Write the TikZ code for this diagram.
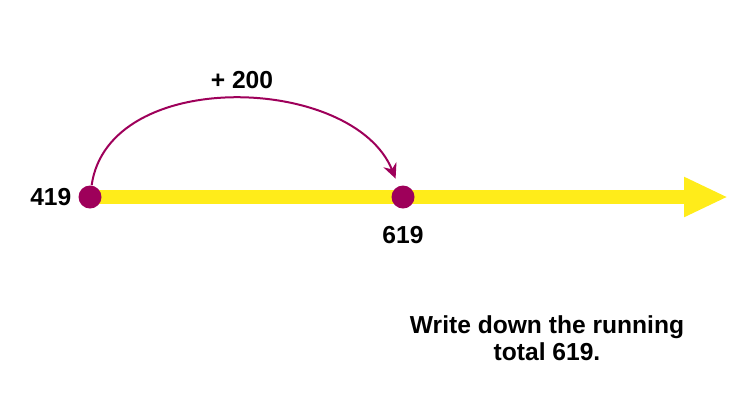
\documentclass[tikz,border=0pt]{standalone}
\usepackage{fontspec}
\setmainfont{Liberation Sans}
\usetikzlibrary{arrows.meta,positioning}
\definecolor{jumppurple}{RGB}{158,0,90}
\definecolor{lineyellow}{RGB}{255,236,26}
\tikzset{
  dot/.style={circle,fill=jumppurple,minimum size=23*0.02cm,inner sep=0pt},
  numlabel/.style={inner sep=0pt,font=\bfseries\fontsize{14}{16}\selectfont},
}
\begin{document}
\begin{tikzpicture}[x=0.02cm,y=-0.02cm]
        \useasboundingbox (0,0) rectangle (750,410);
        \coordinate (p419)    at (90,197);
        \coordinate (p619)    at (403,197);
        \coordinate (lineend) at (728,197);

        % number line
        \draw [lineyellow,line width=14*0.02cm,-{Triangle[length=44*0.02cm,width=37*0.02cm]}] (p419) -- (lineend);

        % points
        \node [dot] (d419) at (p419) {};
        \node [dot] (d619) at (p619) {};
        \node [numlabel,left=0.13cm of d419] (n419) {419};
        \node [numlabel,below=0.35cm of d619] (n619) {619};

        % jump
        \draw [jumppurple,line width=2*0.02cm,shorten >=8*0.02cm,-{Stealth[length=15*0.02cm,width=14*0.02cm,inset=5*0.02cm]}]
              (d419) to [out=82,in=112] (d619);
        \node [numlabel] (jump) at (242,80) {+ 200};

        % instruction
        \node [numlabel,align=center,font=\bfseries\fontsize{14}{15.3}\selectfont] (note) at (547,338)
              {Write down the running\\total 619.};
\end{tikzpicture}
\end{document}
